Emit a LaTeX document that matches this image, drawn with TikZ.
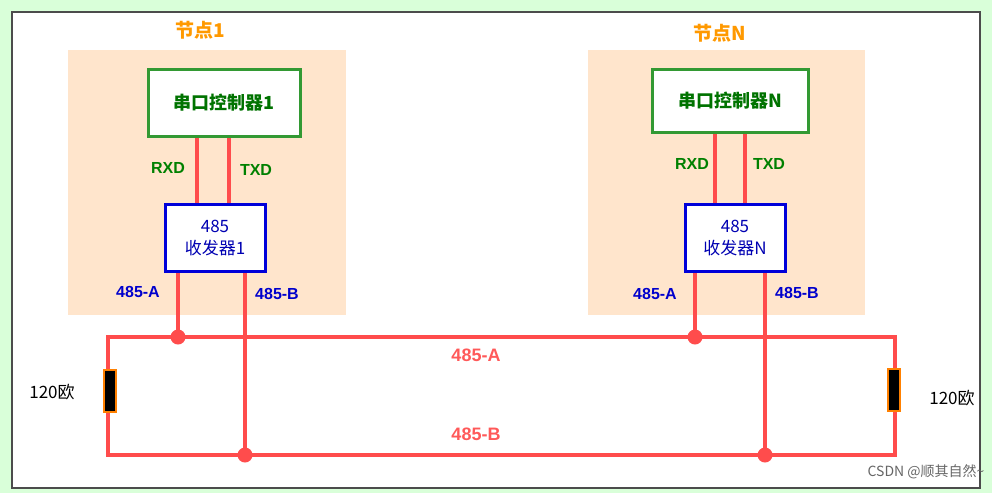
\documentclass[tikz,border=0pt]{standalone}
\usepackage{fontspec}
\setmainfont{Liberation Serif}
\newfontfamily\cjk{Noto Sans CJK SC}
\newfontfamily\sans{Liberation Sans}
\begin{document}
\begin{tikzpicture}[x=1pt,y=-1pt,
  bus/.style={draw=red!70!white, line width=4.5pt},
  ctrl/.style={draw=green!50!black!80, line width=3pt, fill=white, text=green!45!black, font=\cjk\bfseries\fontsize{18}{20}\selectfont, inner sep=0pt},
  xcvr/.style={draw=blue!85!black, line width=3pt, fill=white, text=blue!70!black, font=\cjk\fontsize{17}{22}\selectfont, align=center, inner sep=0pt},
  sig/.style={font=\sans\bfseries\fontsize{16}{18}\selectfont},
  dot/.style={circle, fill=red!70!white, inner sep=0pt, minimum size=15pt},
  res/.style={draw=orange, fill=black, line width=1.2pt, minimum width=12pt, minimum height=42pt, inner sep=0pt},
  bg/.style={fill=orange!20!white, draw=none}]
\fill[green!15!white] (0,0) rectangle (992,493);
\draw[fill=white, draw=black!70, line width=1.5pt] (12,12) rectangle (980,488);
\useasboundingbox (0,0) rectangle (992,493);
\fill[bg] (68,50) rectangle (346,315);
\fill[bg] (588,50) rectangle (865,315);
\node[text=orange!80!yellow, font=\cjk\bfseries\fontsize{19}{22}\selectfont] (t1) at (200,30) {节点1};
\node[text=orange!80!yellow, font=\cjk\bfseries\fontsize{19}{22}\selectfont] (tn) at (720,33) {节点N};
\node[ctrl, minimum width=152pt, minimum height=67pt] (c1) at (224,103) {串口控制器1};
\node[ctrl, minimum width=156pt, minimum height=63pt] (cn) at (730,101) {串口控制器N};
\node[xcvr, minimum width=100pt, minimum height=67pt] (x1) at (215,238) {485\\收发器1};
\node[xcvr, minimum width=100pt, minimum height=67pt] (xn) at (735,238) {485\\收发器N};
\draw[bus] (c1.south -| 197,0) -- (x1.north -| 197,0);
\draw[bus] (c1.south -| 229,0) -- (x1.north -| 229,0);
\draw[bus] (cn.south -| 715,0) -- (xn.north -| 715,0);
\draw[bus] (cn.south -| 745,0) -- (xn.north -| 745,0);
\node[sig, text=green!50!black] (r1) at (168,168) {RXD};
\node[sig, text=green!50!black] (tx1) at (256,170) {TXD};
\node[sig, text=green!50!black] (rn) at (692,164) {RXD};
\node[sig, text=green!50!black] (txn) at (769,164) {TXD};
\coordinate (a1) at (178,337); \coordinate (b1) at (245,455);
\coordinate (an) at (695,337); \coordinate (bn) at (765,455);
\coordinate (la) at (108,337); \coordinate (lb) at (108,455);
\coordinate (ra) at (895,337); \coordinate (rb) at (895,455);
\draw[bus] (la) -- (ra) -- (rb) -- (lb) -- cycle;
\draw[bus] (x1.south -| a1) -- (a1);
\draw[bus] (x1.south -| b1) -- (b1);
\draw[bus] (xn.south -| an) -- (an);
\draw[bus] (xn.south -| bn) -- (bn);
\node[dot] at (a1) {}; \node[dot] at (b1) {};
\node[dot] at (an) {}; \node[dot] at (bn) {};
\node[res] (rl) at (110,391) {};
\node[res] (rr) at (894,390) {};
\node[font=\cjk\fontsize{17}{20}\selectfont] (lr) at (52,392) {120欧};
\node[font=\cjk\fontsize{17}{20}\selectfont] (lrr) at (952,398) {120欧};
\node[sig, text=blue!80!black] at (138,292) {485-A};
\node[sig, text=blue!80!black] at (277,294) {485-B};
\node[sig, text=blue!80!black] at (655,294) {485-A};
\node[sig, text=blue!80!black] at (797,293) {485-B};
\node[text=red!65!white, font=\sans\bfseries\fontsize{18}{20}\selectfont] at (476,355) {485-A};
\node[text=red!65!white, font=\sans\bfseries\fontsize{18}{20}\selectfont] at (476,434) {485-B};
\node[text=black!60, font=\cjk\fontsize{14}{16}\selectfont, anchor=east] at (988,472) {CSDN @顺其自然\textasciitilde};
\end{tikzpicture}
\end{document}
